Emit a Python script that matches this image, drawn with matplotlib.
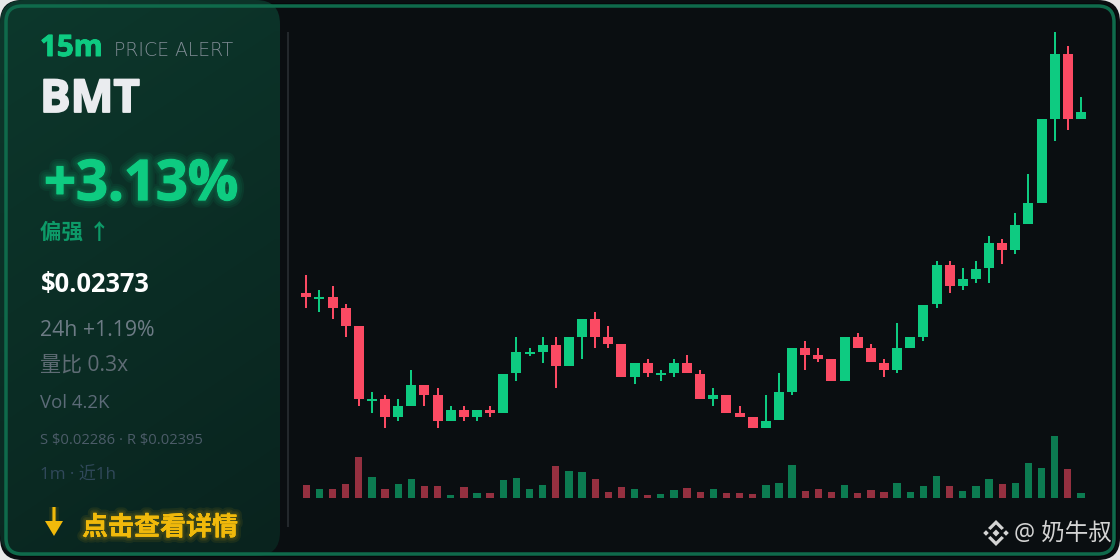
import matplotlib
matplotlib.use('Agg')
import matplotlib.pyplot as plt
import matplotlib.patheffects as pe
from matplotlib.patches import FancyBboxPatch, Polygon
import numpy as np

# prices in millionths of a dollar, one candle per minute
opens = [23195, 23178, 23183, 23151, 23096, 22872, 22878, 22825, 22857, 22921,
         22889, 22813, 22846, 22824, 22846, 22835, 22955, 23014, 23020, 23041,
         22977, 23064, 23118, 23063, 23042, 22944, 22987, 22949, 22955, 22987,
         22954, 22879, 22889, 22835, 22824, 22792, 22814, 22900, 23030, 23009,
         22998, 22933, 23063, 23031, 22987, 22966, 23032, 23064, 23163, 23281,
         23217, 23238, 23271, 23346, 23325, 23402, 23467, 23718, 23913, 23718]
highs = [23249, 23205, 23216, 23162, 23096, 22900, 22890, 22878, 22965, 22921,
         22911, 22857, 22857, 22846, 22857, 22954, 23064, 23030, 23064, 23064,
         23063, 23118, 23140, 23096, 23042, 22987, 22998, 22966, 22998, 23009,
         22965, 22911, 22889, 22857, 22824, 22889, 22955, 23030, 23053, 23031,
         22998, 23063, 23075, 23042, 22998, 23107, 23063, 23161, 23292, 23292,
         23270, 23292, 23368, 23357, 23435, 23554, 23717, 23979, 23936, 23783]
lows = [23152, 23140, 23119, 23064, 22857, 22835, 22792, 22813, 22857, 22857,
        22792, 22813, 22813, 22813, 22824, 22835, 22933, 23008, 22987, 22911,
        22977, 22998, 23032, 23032, 22944, 22922, 22944, 22933, 22944, 22955,
        22879, 22857, 22835, 22825, 22792, 22792, 22814, 22889, 22966, 22988,
        22933, 22933, 23032, 22988, 22944, 22955, 23032, 23053, 23152, 23195,
        23206, 23227, 23227, 23282, 23314, 23402, 23467, 23653, 23686, 23718]
closes = [23184, 23184, 23152, 23098, 22879, 22878, 22825, 22856, 22921, 22890,
          22813, 22846, 22824, 22846, 22835, 22954, 23019, 23019, 23041, 22977,
          23063, 23118, 23064, 23042, 22944, 22987, 22955, 22955, 22987, 22955,
          22879, 22889, 22835, 22825, 22792, 22813, 22900, 23030, 23010, 22999,
          22933, 23063, 23032, 22988, 22966, 23031, 23063, 23161, 23281, 23217,
          23238, 23269, 23346, 23325, 23401, 23466, 23717, 23913, 23718, 23738]
# volume in thousands
volumes = [10.4, 7.0, 7.2, 11.2, 32.8, 16.6, 7.2, 11.4, 15.2, 9.8,
           9.8, 2.6, 8.6, 4.0, 4.2, 14.6, 16.0, 7.4, 10.4, 25.8,
           21.4, 20.6, 15.2, 4.8, 9.0, 7.2, 2.4, 3.0, 6.2, 7.8,
           4.8, 7.2, 4.2, 4.0, 3.4, 10.4, 11.8, 26.4, 5.8, 7.2,
           4.8, 10.4, 4.2, 6.2, 4.6, 11.8, 5.0, 9.4, 17.4, 9.8,
           5.8, 9.8, 15.4, 11.2, 11.8, 28.0, 24.0, 49.6, 23.0, 4.2]

GREEN = '#0ecb81'
RED = '#fb4a63'
YELLOW = '#f0b90b'
CANVAS = '#0a0e11'
CJK = ['Open Sans', 'Noto Sans CJK SC', 'DejaVu Sans']

plt.rcParams['font.family'] = CJK


def px(size):
    # css pixels to points at dpi 100
    return size * 0.72


def glow(color, widths=(11, 8, 5, 3), alpha=0.07, fat=0.0):
    effects = [pe.withStroke(linewidth=w, foreground=color, alpha=alpha) for w in widths]
    if fat:
        effects.append(pe.withStroke(linewidth=fat, foreground=color))
    return effects + [pe.Normal()]


def fat(color, width=0.8):
    return [pe.withStroke(linewidth=width, foreground=color), pe.Normal()]


def rounded(x0, y0, x1, y1, r, **kw):
    return FancyBboxPatch((x0 + r, y0 + r), x1 - x0 - 2 * r, y1 - y0 - 2 * r,
                          boxstyle='round,pad=%f,rounding_size=%f' % (r, r), **kw)


fig = plt.figure(figsize=(11.2, 5.6), dpi=100, facecolor='#e8e8e8')

# background layer, in pixels
bg = fig.add_axes([0, 0, 1, 1], zorder=0)
bg.set_xlim(0, 1120)
bg.set_ylim(560, 0)
bg.axis('off')
bg.add_patch(rounded(0, 0, 1120, 560, 22, fc=CANVAS, ec='none'))
bg.add_patch(rounded(3, 3, 1117, 557, 20, fc='#05090b', ec='none'))
bg.add_patch(rounded(7, 7, 1113, 553, 15, fc=CANVAS, ec='none'))

top = np.array([13, 56, 44]) / 255
bottom = np.array([9, 35, 30]) / 255
yy, xx = np.mgrid[0:1:60j, 0:1:30j]
mix = (0.75 * yy + 0.25 * xx)[..., None]
panel_img = bg.imshow(top * (1 - mix) + bottom * mix, extent=(0, 280, 556, 0),
                      aspect='auto', interpolation='bilinear', zorder=2)
clip = rounded(0, 0, 280, 556, 24, fc='none', ec='none', zorder=2)
bg.add_patch(clip)
panel_img.set_clip_path(clip)
bg.set_xlim(0, 1120)
bg.set_ylim(560, 0)

bg.add_patch(rounded(6, 6, 1114, 554, 16, fc='none', ec='#0f6a4b', lw=px(3.5), zorder=3))
bg.plot([288, 288], [32, 527], color='#23282c', lw=px(2), zorder=3, solid_capstyle='butt')

# candles, index on x and price on y
x = np.arange(len(opens))
step = 13.13
x0 = 306.3
xlim = (-x0 / step, (1120 - x0) / step)
ax = fig.add_axes([0, 0, 1, 1], zorder=1)
ax.patch.set_alpha(0)
ax.axis('off')
ax.set_xlim(xlim)
ax.set_ylim(24075 - 3 * 560, 24075)
colors = [GREEN if c >= o else RED for o, c in zip(opens, closes)]
ax.vlines(x, lows, highs, colors=colors, lw=px(2))
body_bottom = np.minimum(opens, closes)
body_height = np.maximum(np.abs(np.array(closes) - np.array(opens)), 5)
ax.bar(x, body_height, bottom=body_bottom, width=10 / step, color=colors, lw=0)

vol = fig.add_axes([0, 62 / 560, 1, 100 / 560], zorder=1)
vol.patch.set_alpha(0)
vol.axis('off')
vol.set_xlim(xlim)
vol.set_ylim(0, 80)
vol.bar(x, volumes, width=7.3 / step, color=colors, alpha=0.58, lw=0)

# text layer, in pixels
fg = fig.add_axes([0, 0, 1, 1], zorder=2)
fg.patch.set_alpha(0)
fg.axis('off')
fg.set_xlim(0, 1120)
fg.set_ylim(560, 0)

fg.text(40, 56, '15m', color=GREEN, fontsize=px(29.5), fontweight='bold', va='baseline',
        path_effects=fat(GREEN, 0.7))
fg.text(114, 56, 'PRICE ALERT', color='#7f8b94', fontsize=px(18.9), family='DejaVu Sans',
        fontweight='light', va='baseline')
fg.text(40, 112, 'BMT', color='#eaecef', fontsize=px(45.5), fontweight='bold', va='baseline',
        path_effects=fat('#eaecef', 1.3))
fg.text(44, 200, '+3.13%', color=GREEN, fontsize=px(56), fontweight='bold', va='baseline',
        path_effects=glow(GREEN, fat=1.0))
fg.text(40, 239, '偏强 ↑', color='#0d9a68', fontsize=px(21.5), fontweight='bold', va='baseline')
fg.text(41, 292, '$0.02373', color='#ffffff', fontsize=px(25.5), fontweight='bold', va='baseline',
        parse_math=False)
fg.text(40, 336, '24h +1.19%', color='#6d7b85', fontsize=px(21.3), va='baseline')
fg.text(40, 372, '量比 0.3x', color='#5f6c75', fontsize=px(21), va='baseline')
fg.text(40, 408, 'Vol 4.2K', color='#5c6b78', fontsize=px(18.7), va='baseline')
fg.text(40, 444, 'S $0.02286 · R $0.02395', color='#4c5c69', fontsize=px(14.7), va='baseline',
        parse_math=False)
fg.text(40, 480, '1m · 近1h', color='#30485a', fontsize=px(17), va='baseline')
fg.text(82, 535, '点击查看详情', color=YELLOW, fontsize=px(26), fontweight='bold', va='baseline',
        path_effects=glow(YELLOW, widths=(8, 5, 3), alpha=0.08))

# down arrow beside the call to action
fg.plot([54, 54], [507, 525], color=YELLOW, lw=px(2.5), solid_capstyle='butt',
        path_effects=glow(YELLOW, widths=(7, 4), alpha=0.08))
fg.add_patch(Polygon([(45, 521), (63, 521), (54, 536)], fc=YELLOW, ec='none'))

# watermark
mark = '#d4d4d4'
cx, cy = 996, 533
for dx, dy, r in [(0, 0, 3.5), (-10, 0, 2.8), (10, 0, 2.8)]:
    fg.add_patch(Polygon([(cx + dx - r, cy + dy), (cx + dx, cy + dy - r),
                          (cx + dx + r, cy + dy), (cx + dx, cy + dy + r)], fc=mark, ec='none'))
for s in (-1, 1):
    fg.add_patch(Polygon([(cx - 8, cy + s * 5), (cx, cy + s * 13), (cx + 8, cy + s * 5),
                          (cx + 5.5, cy + s * 3), (cx, cy + s * 8.5), (cx - 5.5, cy + s * 3)],
                         fc=mark, ec='none'))
fg.text(1014, 541, '@ 奶牛叔', color=mark, fontsize=px(23.5), va='baseline')

fig.savefig('out.png', dpi=100, facecolor=fig.get_facecolor())
